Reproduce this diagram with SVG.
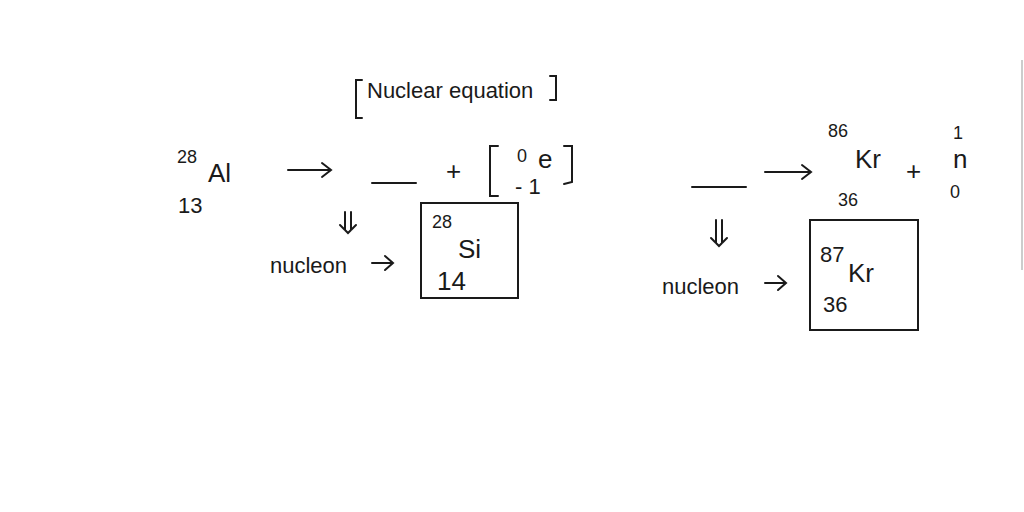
<svg xmlns="http://www.w3.org/2000/svg" width="1024" height="512" viewBox="0 0 1024 512">
<style>
text{font-family:"Liberation Sans",sans-serif;fill:#1a1a1a}
.b{font-size:26px}.s{font-size:18px}.m{font-size:22px}
.l{stroke:#1a1a1a;stroke-width:2;fill:none;stroke-linecap:round}
</style>
<rect width="1024" height="512" fill="#fff"/>
<line x1="1022" y1="60" x2="1022" y2="270" stroke="#ccc" stroke-width="2"/>
<g id="title">
<path class="l" d="M362 80 L356 80 L356 118 L362 118"/>
<text x="367" y="98" class="m">Nuclear equation</text>
<path class="l" d="M550 76 L556 76 L556 100 L550 100"/>
</g>
<g id="al"><text x="177" y="163" class="s">28</text><text x="208" y="182" class="b">Al</text><text x="178" y="213" class="m">13</text></g>
<g id="blank1"><line class="l" x1="372" y1="183" x2="416" y2="183"/></g>
<g id="plus1"><text x="446" y="180" class="b">+</text></g>
<g id="electron">
<path class="l" d="M498 146 L490 146 L490 196 L498 196"/>
<text x="517" y="162" class="s">0</text><text x="538" y="168" class="b">e</text><text x="515" y="194" class="m">- 1</text>
<path class="l" d="M564 146 L572 146 L572 182 L564 184"/>
</g>
<g id="si"><rect x="421" y="203" width="97" height="95" class="l"/>
<text x="432" y="228" class="s">28</text><text x="458" y="258" class="b">Si</text><text x="437" y="290" class="b">14</text></g>
<g id="nuc1"><text x="270" y="273" class="m">nucleon</text></g>
<g id="blank2"><line class="l" x1="692" y1="187" x2="746" y2="187"/></g>
<g id="kr86"><text x="828" y="137" class="s">86</text><text x="855" y="168" class="b">Kr</text><text x="838" y="206" class="s">36</text></g>
<g id="plus2"><text x="906" y="180" class="b">+</text></g>
<g id="n"><text x="953" y="139" class="s">1</text><text x="953" y="168" class="b">n</text><text x="950" y="198" class="s">0</text></g>
<g id="kr87"><rect x="810" y="220" width="108" height="110" class="l"/>
<text x="820" y="262" class="m">87</text><text x="848" y="282" class="b">Kr</text><text x="823" y="312" class="m">36</text></g>
<g id="nuc2"><text x="662" y="294" class="m">nucleon</text></g>
<g id="connectors">
<path class="l" d="M288 170 L330 170 M322 163 L331 170 L322 177"/>
<path class="l" d="M765 172 L810 172 M802 165 L811 172 L802 179"/>
<path class="l" d="M345 212 L345 230 M351 212 L351 230 M340 225 L348 233 L356 225"/>
<path class="l" d="M716 220 L716 243 M722 220 L722 243 M711 238 L719 246 L727 238"/>
<path class="l" d="M372 263 L392 263 M385 256 L393 263 L385 270"/>
<path class="l" d="M765 283 L785 283 M778 276 L786 283 L778 290"/>
</g>
</svg>
